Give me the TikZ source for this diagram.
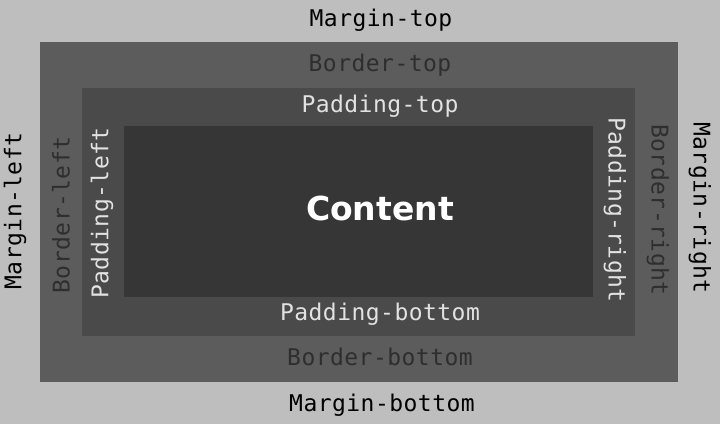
\documentclass[tikz,border=0pt]{standalone}
\usepackage{fontspec}
\newfontfamily\monof[LetterSpace=2]{DejaVu Sans Mono}
\newfontfamily\contf{DejaVu Sans}
\definecolor{bgc}{HTML}{BEBEBE}
\definecolor{borderc}{HTML}{5C5C5C}
\definecolor{padc}{HTML}{4A4A4A}
\definecolor{contc}{HTML}{363636}
\definecolor{bordertxt}{HTML}{2E2E2E}
\definecolor{padtxt}{HTML}{E2E2E2}
\tikzset{
  lbl/.style={inner sep=0pt, font=\monof\fontsize{23}{23}\selectfont},
  mlbl/.style={lbl, text=black},
  blbl/.style={lbl, text=bordertxt},
  plbl/.style={lbl, text=padtxt},
}
\begin{document}
\begin{tikzpicture}[x=1pt,y=-1pt]
\useasboundingbox (0,0) rectangle (720,424);
\fill[bgc] (0,0) rectangle (720,424);
\fill[borderc] (40,42) rectangle (678,382);
\fill[padc] (82,88) rectangle (635,336);
\fill[contc] (124,126) rectangle (593,297);
% margin
\node[mlbl] (mt) at (381,20) {Margin-top};
\node[mlbl] (mb) at (382,405) {Margin-bottom};
\node[mlbl, rotate=90] (ml) at (15,211) {Margin-left};
\node[mlbl, rotate=-90] (mr) at (700,208) {Margin-right};
% border
\node[blbl] (bt) at (380,65) {Border-top};
\node[blbl] (bb) at (380,357) {Border-bottom};
\node[blbl, rotate=90] (bl) at (61,215) {Border-left};
\node[blbl, rotate=-90] (br) at (658,210) {Border-right};
% padding
\node[plbl] (pt) at (380,106) {Padding-top};
\node[plbl] (pb) at (380,314) {Padding-bottom};
\node[plbl, rotate=90] (pl) at (102,213) {Padding-left};
\node[plbl, rotate=-90] (pr) at (615,210) {Padding-right};
% content
\node[inner sep=0pt, text=white, font=\contf\bfseries\fontsize{33}{33}\selectfont] (c) at (380,208) {Content};
\end{tikzpicture}
\end{document}
